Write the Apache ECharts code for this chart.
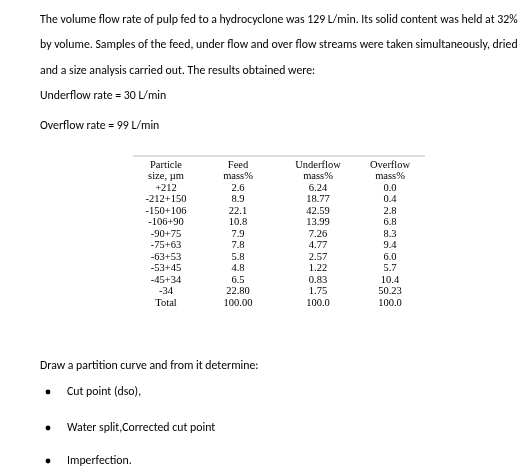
<!DOCTYPE html><html><head><meta charset="utf-8"><script src="https://cdn.jsdelivr.net/npm/echarts@6/dist/echarts.min.js"></script>
<style>html,body{margin:0;background:#fff}#c{width:526px;height:474px}</style></head><body><div id="c"></div><script>
const sizes=['+212','-212+150','-150+106','-106+90','-90+75','-75+63','-63+53','-53+45','-45+34','-34','Total'];
const feed=['2.6','8.9','22.1','10.8','7.9','7.8','5.8','4.8','6.5','22.80','100.00'];
const under=['6.24','18.77','42.59','13.99','7.26','4.77','2.57','1.22','0.83','1.75','100.0'];
const over=['0.0','0.4','2.8','6.8','8.3','9.4','6.0','5.7','10.4','50.23','100.0'];
const headers=[['Particle','size, µm'],['Feed','mass%'],['Underflow','mass%'],['Overflow','mass%']];
const para=['The volume flow rate of pulp fed to a hydrocyclone was 129 L/min. Its solid content was held at 32%','by volume. Samples of the feed, under flow and over flow streams were taken simultaneously, dried','and a size analysis carried out. The results obtained were:'];
const bullets=['Cut point (dso),','Water split,Corrected cut point','Imperfection.'];
const sans='Carlito, Lato, "Liberation Sans", sans-serif', serif='"Liberation Serif", "DejaVu Serif", serif';
const g=[];
function t(x,y,s,f,sz,al){g.push({type:'text',x:x,y:y,style:{text:s,font:sz+'px '+f,fill:'#000',textAlign:al||'left',textVerticalAlign:'middle'}});}
para.forEach((s,i)=>t(40,20+i*25.5,s,sans,11.8));
t(40,96,'Underflow rate = 30 L/min',sans,11.8);
t(40,126,'Overflow rate = 99 L/min',sans,11.8);
const cx=[166,238,318,390];
g.push({type:'line',shape:{x1:133,y1:156,x2:425,y2:156},style:{stroke:'#bbb',lineWidth:1}});
headers.forEach((h,i)=>{t(cx[i],165,h[0],serif,10.5,'center');t(cx[i],176,h[1],serif,10.5,'center');});
[sizes,feed,under,over].forEach((c,i)=>c.forEach((v,j)=>t(cx[i],188+j*11.5,v,serif,10.5,'center')));
t(40,366,'Draw a partition curve and from it determine:',sans,11.8);
[392,428,461].forEach((y,i)=>{g.push({type:'circle',shape:{cx:48,cy:y,r:2.4},style:{fill:'#000'}});t(67,y,bullets[i],sans,11.8);});
echarts.init(document.getElementById('c')).setOption({animation:false,graphic:g});
</script></body></html>
